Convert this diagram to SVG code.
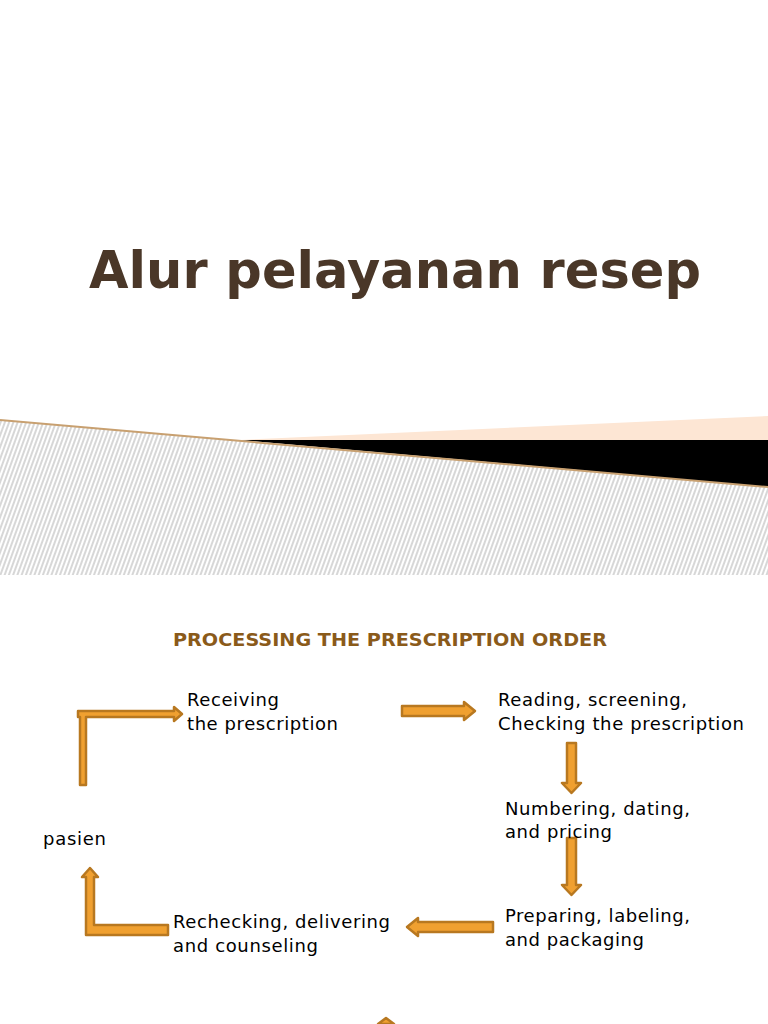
<svg xmlns="http://www.w3.org/2000/svg" width="768" height="1024" viewBox="0 0 768 1024">
<style>
.t{font-family:"DejaVu Sans",sans-serif;font-size:18px;fill:#000}
.ar{fill:#f0a030;stroke:#b87820;stroke-width:2.5;stroke-linejoin:round}
</style>
<defs>
<pattern id="h" width="4" height="4" patternUnits="userSpaceOnUse" patternTransform="rotate(20)">
<rect width="4" height="4" fill="#fff"/>
<line x1="1" y1="0" x2="1" y2="4" stroke="#b0b0b0" stroke-width="1"/>
</pattern>
</defs>
<rect width="768" height="1024" fill="#fff"/>
<text x="89" y="288" textLength="612" lengthAdjust="spacingAndGlyphs" style="font-family:'DejaVu Sans',sans-serif;font-size:51px;font-weight:bold;fill:#4a3728">Alur pelayanan resep</text>
<polygon points="240,440 768,416 768,440" fill="#fde6d4"/>
<polygon points="240,440 768,440 768,487" fill="#000"/>
<polygon points="0,420 768,487 768,575 0,575" fill="url(#h)"/>
<line x1="0" y1="420" x2="768" y2="487" stroke="#c8a070" stroke-width="2"/>
<text x="173" y="646" textLength="434" lengthAdjust="spacingAndGlyphs" style="font-family:'DejaVu Sans',sans-serif;font-size:18px;font-weight:bold;fill:#8a5a1a">PROCESSING THE PRESCRIPTION ORDER</text>
<g id="connectors">
<polygon class="ar" points="80,785 86,785 86,717 174,717 174,721 182,714 174,707 174,711 78,711 78,717 80,717"/>
<polygon class="ar" points="402,706 464,706 464,702 475,711 464,720 464,716 402,716"/>
<polygon class="ar" points="567,743 576,743 576,783 581,783 571.5,793 562,783 567,783"/>
<polygon class="ar" points="567,838 576,838 576,885 581,885 571.5,895 562,885 567,885"/>
<polygon class="ar" points="493,922 418,922 418,918 407,927 418,936 418,932 493,932"/>
<polygon class="ar" points="168,925 94,925 94,877 98,877 90,868 82,877 86,877 86,935 168,935"/>
<polygon class="ar" points="378,1024 386,1018 394,1024"/>
</g>
<g id="receiving"><text class="t" x="187" y="706" textLength="92">Receiving</text><text class="t" x="187" y="730" textLength="151">the prescription</text></g>
<g id="reading"><text class="t" x="498" y="706" textLength="189">Reading, screening,</text><text class="t" x="498" y="730" textLength="246">Checking the prescription</text></g>
<g id="numbering"><text class="t" x="505" y="815" textLength="185">Numbering, dating,</text><text class="t" x="505" y="838" textLength="107">and pricing</text></g>
<g id="preparing"><text class="t" x="505" y="922" textLength="185">Preparing, labeling,</text><text class="t" x="505" y="946" textLength="139">and packaging</text></g>
<g id="rechecking"><text class="t" x="173" y="928" textLength="217">Rechecking, delivering</text><text class="t" x="173" y="952" textLength="145">and counseling</text></g>
<g id="pasien"><text class="t" x="43" y="845" textLength="63">pasien</text></g>
</svg>
